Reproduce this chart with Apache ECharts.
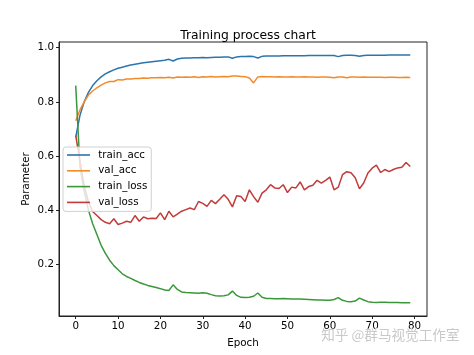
<!DOCTYPE html>
<html><head><meta charset="utf-8">
<script src="https://cdn.jsdelivr.net/npm/echarts@6/dist/echarts.min.js"></script>
<style>html,body{margin:0;padding:0;background:#fff}#c{width:474px;height:355px}</style>
</head><body><div id="c"></div>
<script>
const xTicks = [0, 10, 20, 30, 40, 50, 60, 70, 80];
const yTicks = [0.2, 0.4, 0.6, 0.8, 1.0];
const seriesNames = ['train_acc', 'val_acc', 'train_loss', 'val_loss'];

const trainAcc = [0.67,0.75,0.80,0.835,0.86,0.878,0.892,0.903,0.911,0.918,
0.924,0.928,0.932,0.936,0.939,0.942,0.944,0.946,0.948,0.950,
0.952,0.954,0.957,0.951,0.958,0.961,0.962,0.962,0.963,0.963,
0.964,0.963,0.964,0.965,0.965,0.966,0.966,0.961,0.966,0.967,
0.967,0.968,0.967,0.962,0.968,0.969,0.969,0.969,0.969,0.970,
0.970,0.970,0.970,0.970,0.970,0.971,0.971,0.971,0.971,0.971,
0.971,0.971,0.967,0.971,0.972,0.972,0.971,0.968,0.971,0.972,
0.972,0.972,0.972,0.972,0.973,0.973,0.973,0.973,0.973,0.973];

const valAcc = [0.73,0.77,0.80,0.825,0.84,0.852,0.862,0.870,0.875,0.875,
0.882,0.881,0.884,0.884,0.886,0.886,0.888,0.887,0.889,0.889,
0.890,0.889,0.891,0.888,0.892,0.891,0.892,0.891,0.893,0.890,
0.893,0.892,0.894,0.892,0.893,0.894,0.893,0.895,0.895,0.894,
0.893,0.888,0.870,0.892,0.894,0.893,0.893,0.892,0.893,0.892,
0.892,0.893,0.892,0.892,0.893,0.892,0.892,0.891,0.892,0.892,
0.891,0.889,0.892,0.892,0.889,0.892,0.892,0.891,0.892,0.891,
0.891,0.891,0.891,0.890,0.891,0.891,0.890,0.890,0.891,0.890];

const trainLoss = [0.86,0.56,0.47,0.40,0.35,0.31,0.27,0.24,0.215,0.195,
0.18,0.165,0.155,0.148,0.14,0.133,0.127,0.122,0.118,0.114,
0.110,0.105,0.103,0.124,0.107,0.098,0.096,0.095,0.094,0.093,
0.095,0.093,0.088,0.084,0.083,0.084,0.087,0.101,0.085,0.078,
0.077,0.078,0.082,0.094,0.078,0.074,0.074,0.073,0.073,0.074,
0.073,0.072,0.072,0.072,0.071,0.070,0.069,0.068,0.068,0.067,
0.067,0.070,0.077,0.067,0.063,0.062,0.064,0.075,0.068,0.062,
0.060,0.059,0.060,0.060,0.059,0.059,0.059,0.058,0.058,0.058];

const valLoss = [0.675,0.58,0.49,0.43,0.395,0.38,0.365,0.355,0.35,0.368,
0.347,0.352,0.359,0.355,0.38,0.359,0.375,0.368,0.37,0.369,
0.39,0.365,0.396,0.375,0.385,0.396,0.402,0.408,0.402,0.432,
0.425,0.414,0.436,0.424,0.44,0.457,0.44,0.412,0.453,0.45,
0.432,0.475,0.45,0.429,0.463,0.475,0.494,0.482,0.48,0.494,
0.465,0.485,0.482,0.504,0.475,0.487,0.492,0.51,0.50,0.51,
0.522,0.475,0.485,0.531,0.542,0.538,0.52,0.479,0.50,0.537,
0.555,0.566,0.539,0.55,0.542,0.55,0.556,0.558,0.576,0.561];

const colors = ['#2b75ad', '#f28a2a', '#3a983a', '#c23a3a'];
const allData = [trainAcc, valAcc, trainLoss, valLoss];
const font = 'DejaVu Sans';

const chart = echarts.init(document.getElementById('c'), null, {renderer: 'canvas'});
chart.setOption({
  animation: false,
  backgroundColor: '#fff',
  title: {
    text: 'Training process chart', left: 243, top: 25, textAlign: 'center',
    textStyle: {fontFamily: font, fontSize: 12.3, fontWeight: 'normal', color: '#000'}
  },
  grid: {left: 59, right: 47, top: 42, bottom: 39, show: true, borderColor: '#222', borderWidth: 1, backgroundColor: 'transparent'},
  xAxis: {
    type: 'value', min: -3.95, max: 82.95,
    name: 'Epoch', nameLocation: 'middle', nameGap: 22, nameMoveOverlap: false,
    nameTextStyle: {fontFamily: font, fontSize: 10.3, color: '#000'},
    axisLine: {show: true, onZero: false, lineStyle: {color: '#222', width: 1}},
    axisTick: {show: true, length: 3, customValues: xTicks, lineStyle: {color: '#222'}},
    axisLabel: {customValues: xTicks, margin: 5, fontFamily: font, fontSize: 10.3, color: '#000'},
    splitLine: {show: false}
  },
  yAxis: {
    type: 'value', min: 0.009, max: 1.021,
    name: 'Parameter', nameLocation: 'middle', nameGap: 28, nameRotate: 90, nameMoveOverlap: false,
    nameTextStyle: {fontFamily: font, fontSize: 10.3, color: '#000'},
    axisLine: {show: true, onZero: false, lineStyle: {color: '#222', width: 1}},
    axisTick: {show: true, length: 3, customValues: yTicks, lineStyle: {color: '#222'}},
    axisLabel: {customValues: yTicks, margin: 5, fontFamily: font, fontSize: 10.3, color: '#000',
      formatter: v => Number(v).toFixed(1)},
    splitLine: {show: false}
  },
  legend: {
    orient: 'vertical', left: 63, top: 147,
    data: seriesNames,
    icon: 'rect', itemWidth: 23, itemHeight: 1.6, itemGap: 3.8,
    padding: [2, 4, 3, 4],
    backgroundColor: 'rgba(255,255,255,0.8)', borderColor: '#d0d0d0', borderWidth: 1, borderRadius: 3,
    textStyle: {fontFamily: font, fontSize: 10.3, color: '#000', lineHeight: 12},
    formatter: n => ' ' + n
  },
  series: seriesNames.map((name, k) => ({
    name, type: 'line', showSymbol: false, symbol: 'none', z: 2,
    color: colors[k],
    lineStyle: {color: colors[k], width: 1.5},
    data: allData[k].map((v, i) => [i, v])
  })),
  graphic: [{
    type: 'text', left: 321, top: 328, z: 100,
    style: {text: '知乎 @群马视觉工作室', fontFamily: 'Noto Sans CJK SC', fontSize: 13.6,
      fill: 'rgba(195,195,195,0.9)', stroke: '#fff', lineWidth: 0.5}
  }]
});
</script></body></html>
